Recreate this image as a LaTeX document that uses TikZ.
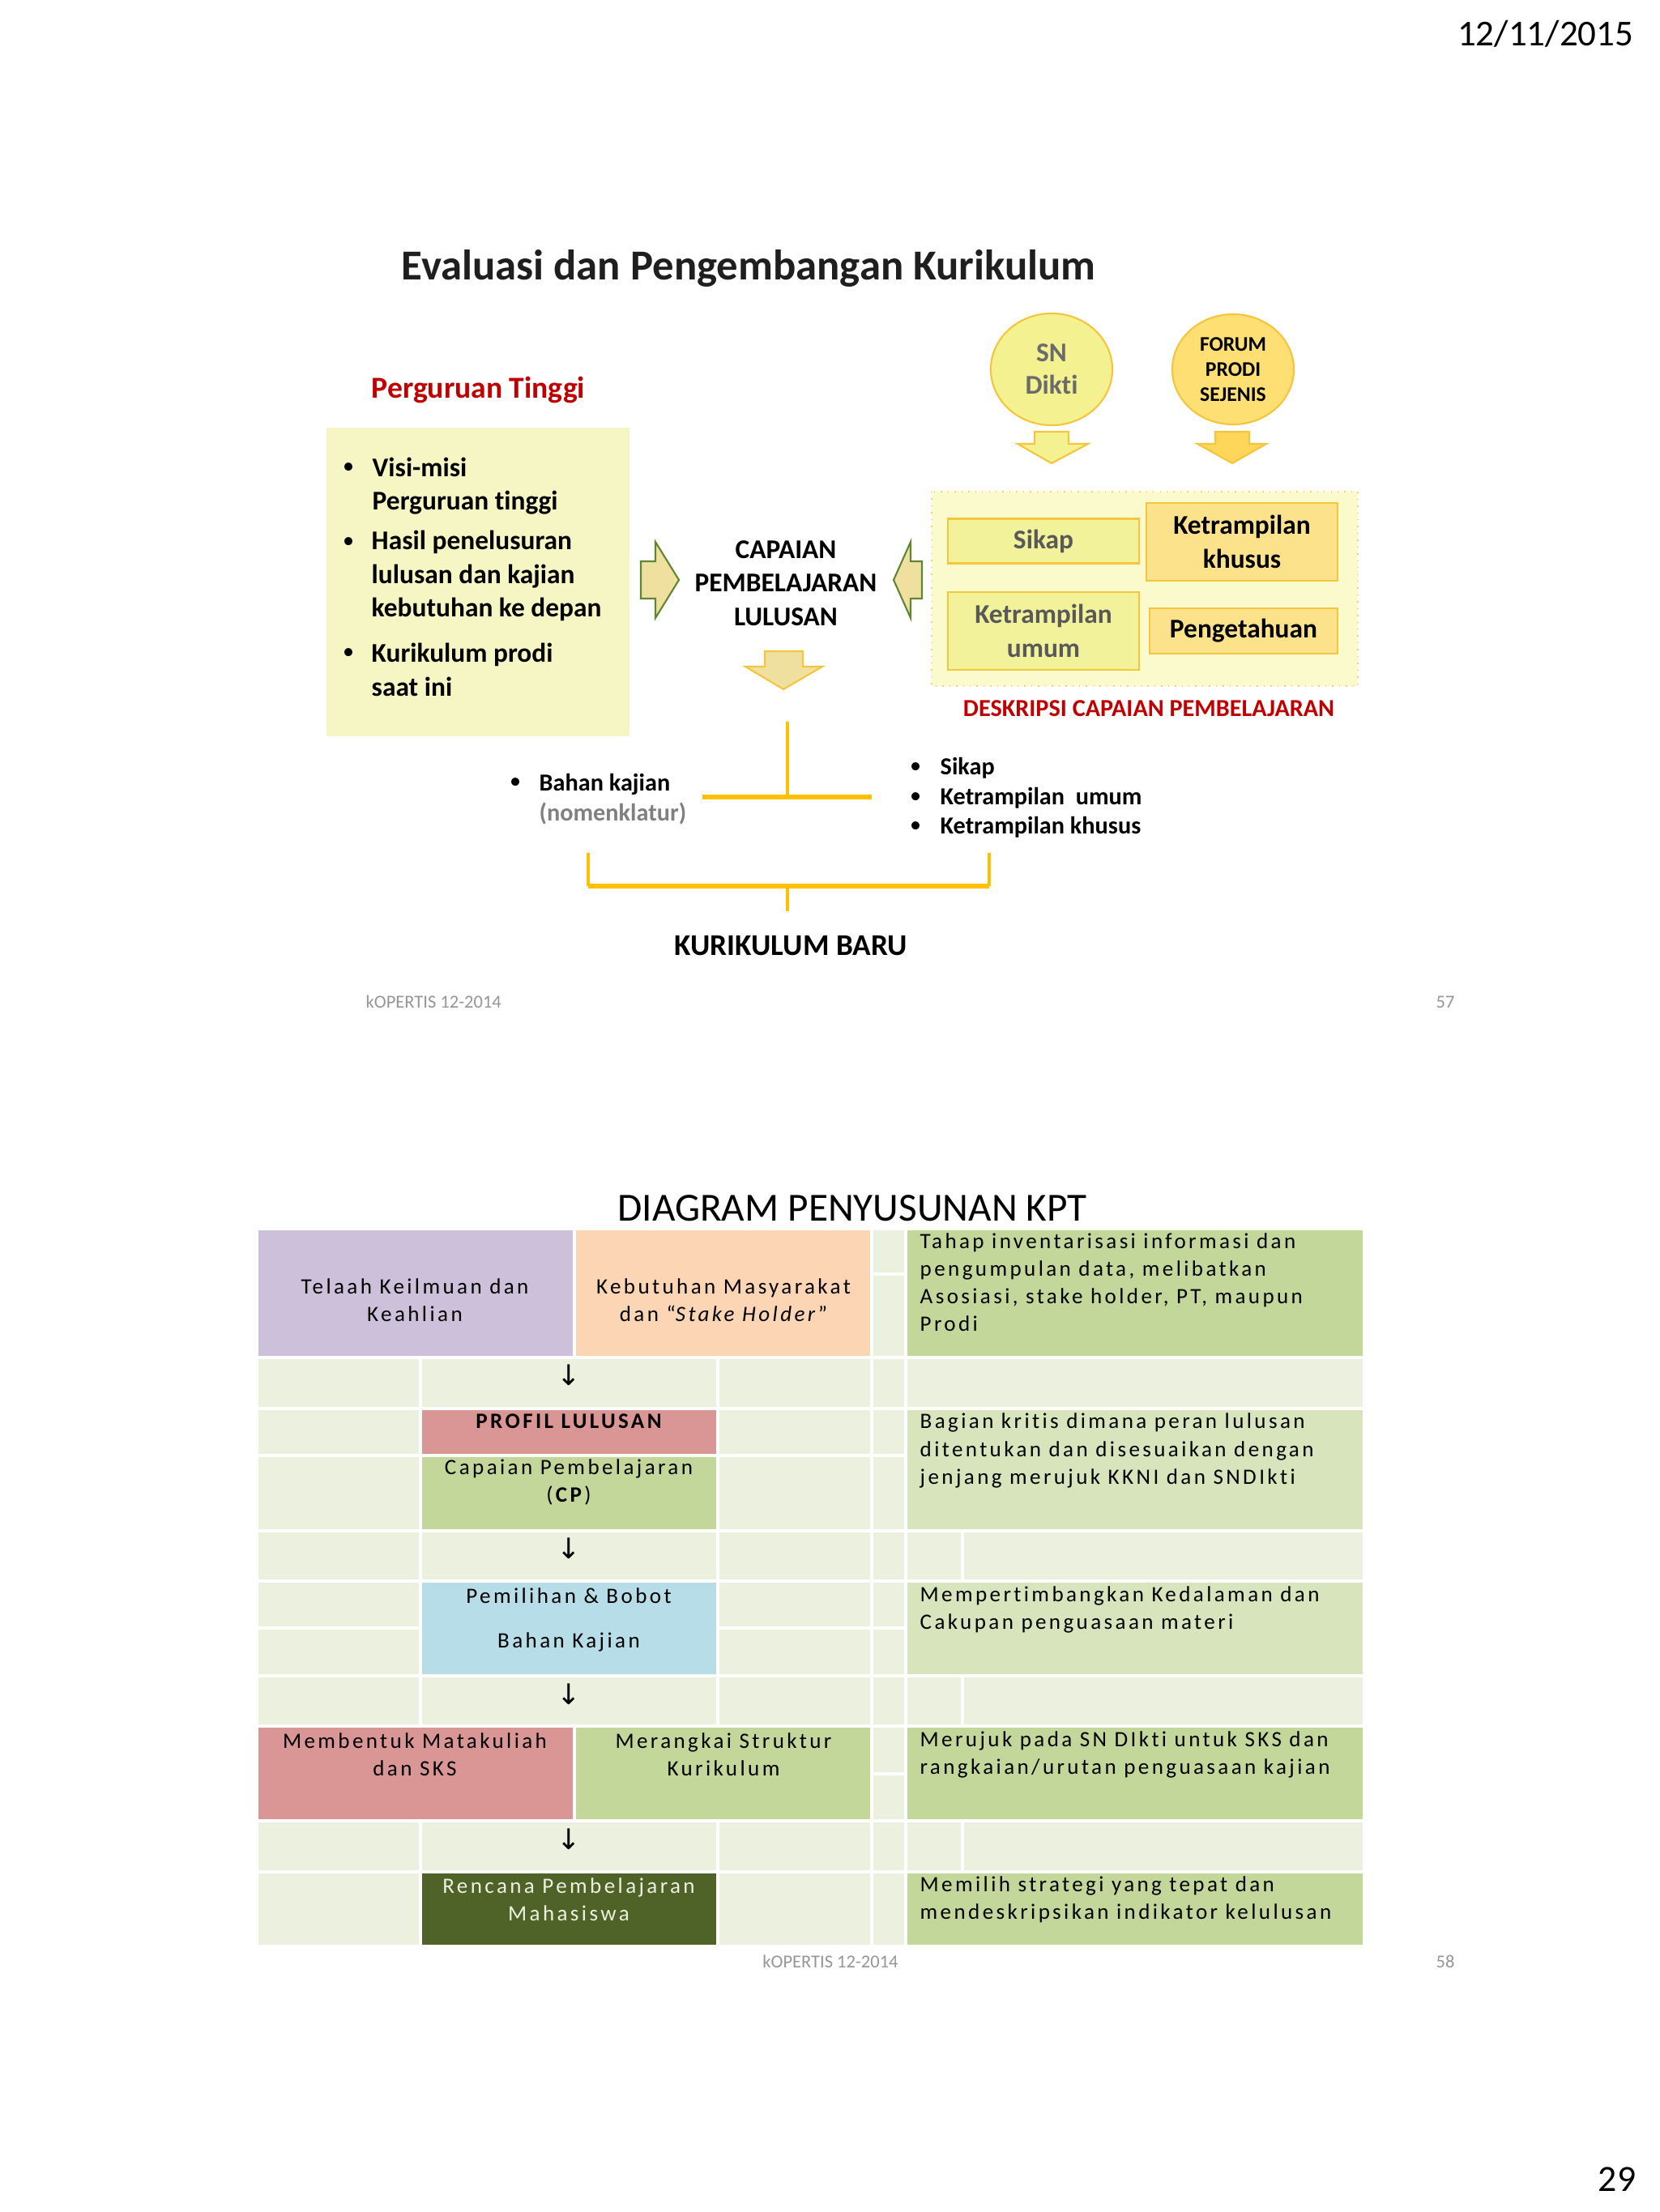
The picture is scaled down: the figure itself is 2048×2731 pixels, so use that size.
\documentclass[tikz,border=0pt]{standalone}
\usepackage{fontspec}
\setmainfont{Carlito}[Ligatures={NoCommon}]
\newfontfamily\tabfont{Carlito}[LetterSpace=12.5, Ligatures={NoCommon}]
\newfontfamily\arrowfont{DejaVu Sans}
\usepackage{xcolor}
\usepackage{tikz}
\usetikzlibrary{shapes.geometric}
\definecolor{TxtRed}{RGB}{192,0,0}
\definecolor{TxtGray}{RGB}{89,89,89}
\definecolor{FootGray}{RGB}{150,150,150}
\definecolor{PaleYellow}{RGB}{246,246,196}
\definecolor{OuterFill}{RGB}{250,250,205}
\definecolor{LimeFill}{RGB}{242,242,155}
\definecolor{GoldFill}{RGB}{253,226,140}
\definecolor{GoldEdge}{RGB}{245,197,60}
\definecolor{GoldLine}{RGB}{255,192,0}
\definecolor{ArrowBeige}{RGB}{240,224,160}
\definecolor{ArrowGreen}{RGB}{95,135,50}
\definecolor{SNFill}{RGB}{244,241,145}
\definecolor{ForumFill}{RGB}{253,223,115}
\definecolor{ForumArrow}{RGB}{253,214,90}
\definecolor{CellBg}{RGB}{235,241,222}
\definecolor{Lavender}{RGB}{204,192,218}
\definecolor{Peach}{RGB}{252,213,180}
\definecolor{GreenMid}{RGB}{196,215,155}
\definecolor{GreenLight}{RGB}{216,228,188}
\definecolor{Rose}{RGB}{218,150,148}
\definecolor{Aqua}{RGB}{183,222,232}
\definecolor{Olive}{RGB}{79,98,40}
\definecolor{OliveTxt}{RGB}{235,241,222}
\tikzset{
  boldtxt/.style  ={font=\fontsize{9.5}{11.8}\selectfont\bfseries, inner sep=0pt},
  bullettxt/.style={font=\fontsize{8}{9}\selectfont, inner sep=0pt, anchor=center},
  listtxt/.style  ={font=\fontsize{8.6}{10.6}\selectfont\bfseries, inner sep=0pt, anchor=west},
  tabtxt/.style   ={font=\tabfont\fontsize{7.7}{9.7}\selectfont, inner sep=0pt},
  foottxt/.style  ={font=\fontsize{6.4}{7.7}\selectfont, text=FootGray, inner sep=0pt},
  cpbox/.style    ={draw=GoldEdge, line width=0.6pt, inner sep=0pt, align=center},
  goldthin/.style ={draw=GoldLine, line width=1pt},
  goldthick/.style={draw=GoldLine, line width=1.5pt},
  tabgrid/.style  ={draw=white, line width=0.9pt},
  tabcell/.style  ={draw=white, line width=0.9pt},
  tabarrow/.style ={font=\arrowfont\fontsize{10}{12}\selectfont, inner sep=0pt},
}

\begin{document}
\begin{tikzpicture}[x=0.01cm, y=-0.01cm, line join=miter]

% --- Page ----------------------------------------------------------------
\useasboundingbox (0,0) rectangle (2048,2731);
\fill[white] (0,0) rectangle (2048,2731);
\node[anchor=east, inner sep=0pt, font=\fontsize{12.8}{15}\selectfont] (date) at (2017,42) {12/11/2015};
\node[anchor=east, inner sep=0pt, font=\fontsize{13}{15}\selectfont] (pagenum) at (2020,2691) {29};

% --- Slide 57: title -----------------------------------------------------
\node[anchor=west, inner sep=0pt, font=\fontsize{15}{18}\selectfont\bfseries, text=black!88] (evaltitle) at (495,331)
  {Evaluasi dan Pengembangan Kurikulum};
\node[anchor=west, inner sep=0pt, font=\fontsize{10.7}{13}\selectfont\bfseries, text=TxtRed] (ptlabel) at (458,481)
  {Perguruan Tinggi};

% --- Left box: Perguruan Tinggi ------------------------------------------
\fill[PaleYellow] (403,528) rectangle (777,909);
\node[bullettxt] (bulA) at (430,578) {•};
\node[bullettxt] (bulB) at (430,670) {•};
\node[bullettxt] (bulC) at (430,807) {•};
\node[boldtxt, anchor=west, align=left] (visimisi) at (459,600) {Visi-misi\\Perguruan tinggi};
\node[boldtxt, anchor=west, align=left] (hasil) at (458,711) {Hasil penelusuran\\lulusan dan kajian\\kebutuhan ke depan};
\node[boldtxt, anchor=west, align=left] (kurprodi) at (458,827) {Kurikulum prodi\\saat ini};

% --- Block arrows into CP ------------------------------------------------
\draw[fill=ArrowBeige, draw=ArrowGreen, line width=0.6pt]
  (791,693) -- (809,693) -- (809,669) -- (838,716) -- (809,763) -- (809,739) -- (791,739) -- cycle;
\draw[fill=ArrowBeige, draw=ArrowGreen, line width=0.6pt]
  (1138,693) -- (1124,693) -- (1124,669) -- (1103,716) -- (1124,763) -- (1124,739) -- (1138,739) -- cycle;
\node[boldtxt, align=center] (cpl) at (970,720) {CAPAIAN\\PEMBELAJARAN\\LULUSAN};
\draw[fill=ArrowBeige, draw=GoldEdge, line width=0.6pt]
  (944,804) -- (991,804) -- (991,823) -- (1015,823) -- (967,851) -- (920,823) -- (944,823) -- cycle;

% --- Sources: SN Dikti and Forum -----------------------------------------
\node[ellipse, fill=SNFill, draw=GoldEdge, line width=0.6pt, minimum width=1.5cm, minimum height=1.38cm,
  inner sep=0pt, align=center, font=\fontsize{9.5}{11.4}\selectfont\bfseries, text=black!58] (sndikti) at (1298,456)
  {SN\\Dikti};
\node[ellipse, fill=ForumFill, draw=GoldEdge, line width=0.6pt, minimum width=1.5cm, minimum height=1.36cm,
  inner sep=0pt, align=center, font=\fontsize{7.3}{8.8}\selectfont\bfseries] (forum) at (1522,456)
  {FORUM\\PRODI\\SEJENIS};
\draw[fill=SNFill, draw=GoldEdge, line width=0.6pt]
  (1277,533) -- (1319,533) -- (1319,548) -- (1343,548) -- (1298,572) -- (1256,548) -- (1277,548) -- cycle;
\draw[fill=ForumArrow, draw=GoldEdge, line width=0.6pt]
  (1500,533) -- (1542,533) -- (1542,548) -- (1563,548) -- (1521,572) -- (1478,548) -- (1500,548) -- cycle;

% --- Deskripsi capaian pembelajaran --------------------------------------
\draw[fill=OuterFill, draw=GoldEdge!80, line width=0.4pt, dotted] (1150,607) rectangle (1676,847);
\node[cpbox, fill=LimeFill, minimum width=2.36cm, minimum height=0.55cm, boldtxt, text=TxtGray] (sikap) at (1288,668)
  {Sikap};
\node[cpbox, fill=GoldFill, minimum width=2.36cm, minimum height=0.96cm, boldtxt] (khusus) at (1533,669)
  {Ketrampilan\\khusus};
\node[cpbox, fill=LimeFill, minimum width=2.36cm, minimum height=0.96cm, boldtxt, text=TxtGray] (umum) at (1288,779)
  {Ketrampilan\\umum};
\node[cpbox, fill=GoldFill, minimum width=2.32cm, minimum height=0.56cm, boldtxt] (tahu) at (1535,779)
  {Pengetahuan};
\node[inner sep=0pt, font=\fontsize{8.6}{10}\selectfont\bfseries, text=TxtRed] (deskripsi) at (1418,875)
  {DESKRIPSI CAPAIAN PEMBELAJARAN};

% --- Components of the new curriculum ------------------------------------
\coordinate (tTop) at (972,891);
\coordinate (tMid) at (972,984);
\coordinate (tLeft) at (867,984);
\coordinate (tRight) at (1076,984);
\draw[goldthin] (tTop) -- (tMid);
\draw[goldthick] (tLeft) -- (tRight);

\node[bullettxt] (bulBahan) at (636,967) {•};
\node[listtxt] (bahan) at (665,968) {Bahan kajian};
\node[listtxt, text=black!50] (nomen) at (665,1005) {(nomenklatur)};
\node[bullettxt] (bulSk) at (1130,948) {•};
\node[bullettxt] (bulKu) at (1130,985) {•};
\node[bullettxt] (bulKk) at (1130,1021) {•};
\node[listtxt] (listSikap) at (1160,948) {Sikap};
\node[listtxt] (listUmum) at (1160,985) {Ketrampilan\ \ umum};
\node[listtxt] (listKhusus) at (1160,1021) {Ketrampilan khusus};

% bracket to KURIKULUM BARU
\coordinate (brL) at (726,1053);
\coordinate (brLB) at (726,1094);
\coordinate (brRB) at (1221,1094);
\coordinate (brR) at (1221,1053);
\coordinate (brMid) at (972,1094);
\coordinate (brEnd) at (972,1125);
\draw[goldthin] (brL) -- (brLB);
\draw[goldthin] (brR) -- (brRB);
\draw[goldthick] (brLB) -- (brRB);
\draw[goldthin] (brMid) -- (brEnd);
\node[inner sep=0pt, font=\fontsize{10.6}{13}\selectfont\bfseries] (kurbaru) at (976,1168) {KURIKULUM BARU};

\node[foottxt, anchor=west] (foot57) at (451,1237) {kOPERTIS 12-2014};
\node[foottxt] (num57) at (1784,1237) {57};

% --- Slide 58: Diagram penyusunan KPT ------------------------------------
\node[inner sep=0pt, font=\fontsize{14}{17}\selectfont] (kpttitle) at (1052,1492) {DIAGRAM PENYUSUNAN KPT};

% grid background
\fill[CellBg] (317,1517) rectangle (1684,2403);
\draw[tabgrid] (317,1676) -- (1684,1676) (317,1739) -- (1684,1739)
  (317,1890) -- (1684,1890) (317,1952) -- (1684,1952)
  (317,2069) -- (1684,2069) (317,2131) -- (1684,2131)
  (317,2248) -- (1684,2248) (317,2311) -- (1684,2311);
\draw[tabgrid] (317,1797) -- (1118,1797) (317,2010) -- (1118,2010)
  (1076,1573) -- (1118,1573) (1076,2190) -- (1118,2190);
\draw[tabgrid] (519,1517) -- (519,2403) (886,1517) -- (886,2403)
  (1076,1517) -- (1076,2403) (1118,1517) -- (1118,2403) (1188,1890) -- (1188,2403);
\draw[draw=white, line width=0.9pt] (317,1517) rectangle (1684,2403);

% coloured cells
\filldraw[tabcell, fill=Lavender] (317,1517) rectangle (709,1676);
\filldraw[tabcell, fill=Peach] (709,1517) rectangle (1076,1676);
\filldraw[tabcell, fill=GreenMid] (1118,1517) rectangle (1684,1676);
\filldraw[tabcell, fill=Rose] (519,1739) rectangle (886,1797);
\filldraw[tabcell, fill=GreenMid] (519,1797) rectangle (886,1890);
\filldraw[tabcell, fill=GreenLight] (1118,1739) rectangle (1684,1890);
\filldraw[tabcell, fill=Aqua] (519,1952) rectangle (886,2069);
\filldraw[tabcell, fill=GreenLight] (1118,1952) rectangle (1684,2069);
\filldraw[tabcell, fill=Rose] (317,2131) rectangle (709,2248);
\filldraw[tabcell, fill=GreenMid] (709,2131) rectangle (1076,2248);
\filldraw[tabcell, fill=GreenMid] (1118,2131) rectangle (1684,2248);
\filldraw[tabcell, fill=Olive] (519,2311) rectangle (886,2403);
\filldraw[tabcell, fill=GreenMid] (1118,2311) rectangle (1684,2403);

% cell texts
\node[tabtxt, align=center] (telaah) at (512,1605) {Telaah Keilmuan dan\\Keahlian};
\node[tabtxt, align=center] (kebutuhan) at (893,1605) {Kebutuhan Masyarakat\\dan “\textit{Stake Holder}”};
\node[tabtxt, font=\tabfont\fontsize{7.7}{9.7}\selectfont\bfseries] (profil) at (702,1755) {PROFIL LULUSAN};
\node[tabtxt, align=center] (cp) at (702,1830) {Capaian Pembelajaran\\(\textbf{CP})};
\node[tabtxt] (pemilihan) at (702,1970) {Pemilihan \& Bobot};
\node[tabtxt] (bahankaj) at (702,2027) {Bahan Kajian};
\node[tabtxt, align=center] (membentuk) at (512,2166) {Membentuk Matakuliah\\dan SKS};
\node[tabtxt, align=center] (merangkai) at (893,2166) {Merangkai Struktur\\Kurikulum};
\node[tabtxt, align=center, text=OliveTxt] (rencana) at (702,2345) {Rencana Pembelajaran\\Mahasiswa};

\node[tabarrow] (arrA) at (702,1698) {↓};
\node[tabarrow] (arrB) at (702,1912) {↓};
\node[tabarrow] (arrC) at (702,2092) {↓};
\node[tabarrow] (arrD) at (702,2271) {↓};

\node[tabtxt, anchor=west, align=left] (tahap) at (1135,1583)
  {Tahap inventarisasi informasi dan\\pengumpulan data, melibatkan\\Asosiasi, stake holder, PT, maupun\\Prodi};
\node[tabtxt, anchor=west, align=left] (bagian) at (1135,1791)
  {Bagian kritis dimana peran lulusan\\ditentukan dan disesuaikan dengan\\jenjang merujuk KKNI dan SNDIkti};
\node[tabtxt, anchor=west, align=left] (menimbang) at (1135,1987)
  {Mempertimbangkan Kedalaman dan\\Cakupan penguasaan materi};
\node[tabtxt, anchor=west, align=left] (merujuk) at (1135,2166)
  {Merujuk pada SN DIkti untuk SKS dan\\rangkaian/urutan penguasaan kajian};
\node[tabtxt, anchor=west, align=left] (memilih) at (1135,2345)
  {Memilih strategi yang tepat dan\\mendeskripsikan indikator kelulusan};

\node[foottxt] (foot58) at (1025,2422) {kOPERTIS 12-2014};
\node[foottxt] (num58) at (1784,2422) {58};

\end{tikzpicture}
\end{document}
